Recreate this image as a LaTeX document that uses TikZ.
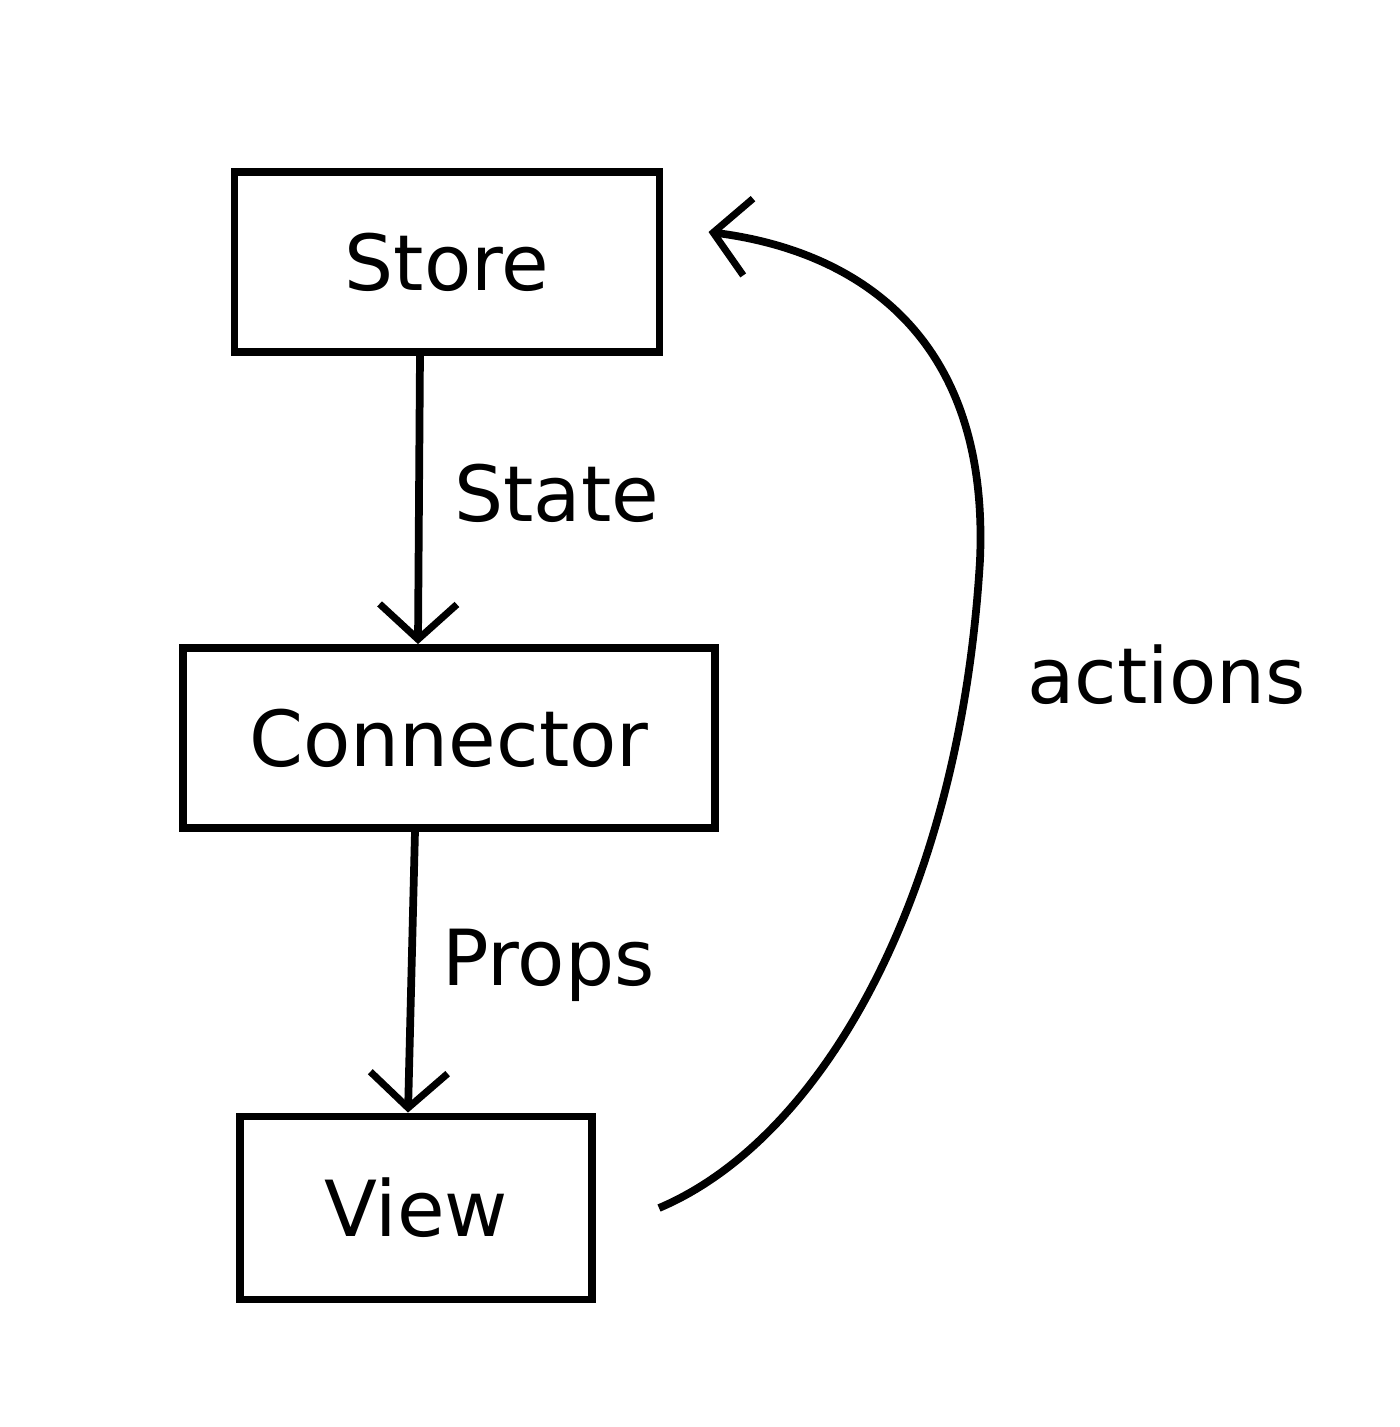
\documentclass[tikz,border=0pt]{standalone}
\usepackage{fontspec}
\setmainfont{DejaVu Sans}
\usetikzlibrary{arrows.meta}
\begin{document}
\begin{tikzpicture}[x=0.01cm,y=-0.01cm,
  box/.style={draw,line width=2.2pt,minimum width=#1,inner sep=0pt},
  lbl/.style={font=\fontsize{22}{26}\selectfont},
  conn/.style={line width=2.2pt,-{Straight Barb[length=10pt,width=22pt,line width=2pt]}}]
\useasboundingbox (0,0) rectangle (1400,1427);
\node[box=4.25cm,minimum height=1.8cm,lbl] (store) at (447,262) {Store};
\node[box=5.32cm,minimum height=1.8cm,lbl] (conn) at (449,738) {Connector};
\node[box=3.52cm,minimum height=1.83cm,lbl] (view) at (416,1208) {View};
\draw[conn] ([xshift=-0.27cm]store.south) -- ([xshift=-0.31cm]conn.north);
\draw[conn] ([xshift=-0.34cm]conn.south) -- ([xshift=-0.08cm]view.north);
\node[lbl,anchor=west] (state) at (442,493) {State};
\node[lbl,anchor=west] (props) at (430,965) {Props};
\node[lbl,anchor=west] (actions) at (1015,675) {actions};
\coordinate (vs) at ([xshift=0.63cm]view.east);
\coordinate (se) at ([xshift=0.45cm,yshift=0.3cm]store.east);
\draw[conn] (vs) .. controls (820,1140) and (960,900) .. (980,560)
  .. controls (990,330) and (850,250) .. (se);
\end{tikzpicture}
\end{document}
